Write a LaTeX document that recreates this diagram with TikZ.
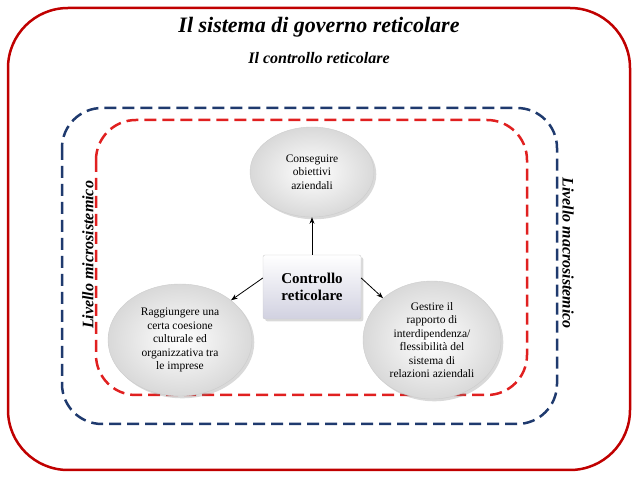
\documentclass[tikz,border=0pt]{standalone}
\usepackage{fontspec}
\setmainfont{Liberation Serif}
\usetikzlibrary{arrows.meta,shadows,shapes.geometric}
\definecolor{dred}{HTML}{C00000}
\definecolor{dblue}{HTML}{1F3A6E}
\definecolor{lred}{HTML}{E02020}
\tikzset{
 bubble/.style={ellipse,inner color=white,outer color=gray!30,draw=gray!40,drop shadow={opacity=0.3},align=center,font=\fontsize{11.5}{13.5}\selectfont},
 ctrl/.style={rectangle,rounded corners=2,top color=white,bottom color=blue!20!gray!30,draw=gray!40,drop shadow={opacity=0.3},align=center,font=\bfseries\fontsize{15}{17}\selectfont,minimum width=98pt,minimum height=64pt},
 arr/.style={-Stealth,thick,black},
 vlab/.style={font=\bfseries\itshape\fontsize{16}{18}\selectfont}
}
\begin{document}
\begin{tikzpicture}[x=1pt,y=-1pt]
\useasboundingbox (0,0) rectangle (638,478);
\draw[dred,line width=2.5pt,rounded corners=60] (8,8) rectangle (630,470);
\draw[dblue,line width=2.5pt,dash pattern=on 12pt off 6pt,rounded corners=40] (62,108) rectangle (557,424);
\draw[lred,line width=2.5pt,dash pattern=on 12pt off 6pt,rounded corners=40] (96,120) rectangle (527,395);
\node[font=\bfseries\itshape\fontsize{22}{24}\selectfont] (t) at (319,27) {Il sistema di governo reticolare};
\node[font=\bfseries\itshape\fontsize{16}{18}\selectfont] (s) at (319,58) {Il controllo reticolare};
\node[vlab,rotate=90] (ml) at (88,255) {Livello microsistemico};
\node[vlab,rotate=-90] (mr) at (568,253) {Livello macrosistemico};
\node[bubble,minimum width=124pt,minimum height=90pt] (top) at (312,172) {Conseguire\\obiettivi\\aziendali};
\node[ctrl] (c) at (312,287) {Controllo\\reticolare};
\node[bubble,minimum width=144pt,minimum height=112pt] (l) at (180,340) {Raggiungere una\\certa coesione\\culturale ed\\organizzativa tra\\le imprese};
\node[bubble,minimum width=138pt,minimum height=118pt] (r) at (432,340) {Gestire il\\rapporto di\\interdipendenza/\\flessibilità del\\sistema di\\relazioni aziendali};
\draw[arr] (c.north) -- (top.south);
\draw[arr] (c.west|-0,278) -- (l.north east);
\draw[arr] (c.east|-0,278) -- (r.north west);
\end{tikzpicture}
\end{document}
